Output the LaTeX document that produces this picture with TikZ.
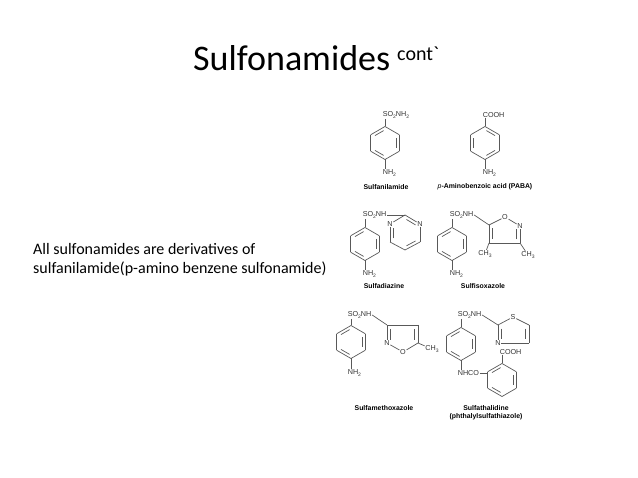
\documentclass[tikz,border=0pt]{standalone}
\usepackage{fontspec}
\setmainfont{Carlito}
\newfontfamily\plainfont{Carlito}
\newfontfamily\arialfont{Liberation Sans}
\usetikzlibrary{calc}

\definecolor{bondgray}{gray}{0.35}
\definecolor{inkgray}{gray}{0.2}

\tikzset{
	bond/.style={line width=.7pt, bondgray},
	atom/.style={inner sep=.6pt, text=inkgray, font=\arialfont\fontsize{7.2}{8}\selectfont},
	drugname/.style={inner sep=0pt, align=center, text=black, font=\arialfont\bfseries\fontsize{6.9}{8.2}\selectfont},
	bodyline/.style={inner sep=0pt, anchor=base west, text=black, font=\fontsize{16}{20}\selectfont},
}

% small index digit, sits tight against the letters
\newcommand{\lowdigit}[1]{\raisebox{-1.6pt}{\fontsize{5}{5}\selectfont #1}}

% six vertices name1..name6, clockwise from the top
\newcommand{\ringsix}[4]{
	\coordinate (#1c) at (#2,#3);
	\foreach \i in {1,...,6}
	{
		\coordinate (#1\i) at ($(#2,#3)+({#4*cos(-90+60*(\i-1))},{#4*sin(-90+60*(\i-1))})$);
	}
	\foreach \i/\j in {1/2,2/3,3/4,4/5,5/6,6/1}
	{
		\draw[bond] (#1\i) -- (#1\j);
	}
}
% second line of a double bond, pulled towards the ring centre
\newcommand{\innerbond}[3]{
	\draw[bond] ($($(#1)!.12!(#2)$)!.2!(#3)$) -- ($($(#2)!.12!(#1)$)!.2!(#3)$);
}

\begin{document}
\begin{tikzpicture}[x=1pt,y=-1pt]

	\useasboundingbox (0,0) rectangle (638,478);

	% title and text
	\node[inner sep=0pt, anchor=base west, font=\fontsize{36}{40}\selectfont] (title) at (193,71) {Sulfonamides};
	\node[inner sep=0pt, anchor=base west, font=\plainfont\fontsize{20}{24}\selectfont] (cont) at (397,60.5) {cont`};
	\node[bodyline] (lineone) at (33,255) {All sulfonamides are derivatives of};
	\node[bodyline] (linetwo) at (33,274) {sulfanilamide(p-amino benzene sulfonamide)};

	% sulfanilamide
	\ringsix{sa}{385}{143}{16.5}
	\foreach \a/\b in {sa1/sa6,sa2/sa3,sa4/sa5}
	{
		\innerbond{\a}{\b}{sac}
	}
	\node[atom, anchor=west] (sasul) at (382,115) {SO\lowdigit{2}NH\lowdigit{2}};
	\node[atom, anchor=west] (saamine) at (382,173) {NH\lowdigit{2}};
	\draw[bond] (sa1) -- (sa1 |- sasul.south);
	\draw[bond] (sa4) -- (sa4 |- saamine.north);
	\node[drugname] (saname) at (386,187) {Sulfanilamide};

	% PABA
	\ringsix{pa}{485}{143}{16.5}
	\foreach \a/\b in {pa1/pa2,pa3/pa4,pa5/pa6}
	{
		\innerbond{\a}{\b}{pac}
	}
	\node[atom, anchor=west] (pacooh) at (482,115) {COOH};
	\node[atom, anchor=west] (paamine) at (482,173) {NH\lowdigit{2}};
	\draw[bond] (pa1) -- (pa1 |- pacooh.south);
	\draw[bond] (pa4) -- (pa4 |- paamine.north);
	\node[drugname] (paname) at (485,187) {\textit{\mdseries p}-Aminobenzoic acid (PABA)};

	% sulfadiazine
	\ringsix{di}{365}{244}{16.5}
	\foreach \a/\b in {di1/di6,di2/di3,di4/di5}
	{
		\innerbond{\a}{\b}{dic}
	}
	\node[atom, anchor=west] (disul) at (362,215) {SO\lowdigit{2}NH};
	\node[atom, anchor=west] (diamine) at (362,274) {NH\lowdigit{2}};
	\draw[bond] (di1) -- (di1 |- disul.south);
	\draw[bond] (di4) -- (di4 |- diamine.north);
	\coordinate (pyc) at (405,233);
	\coordinate (pytop) at (405,215);
	\node[atom] (pyn) at (420,224) {N};
	\node[atom] (pym) at (390,224) {N};
	\coordinate (pya) at (420,242);
	\coordinate (pyb) at (405,250);
	\coordinate (pyd) at (390,242);
	\draw[bond] (disul.east) -- (pytop);
	\foreach \a/\b in {pytop/pyn,pyn/pya,pya/pyb,pyb/pyd,pyd/pym,pym/pytop}
	{
		\draw[bond] (\a) -- (\b);
	}
	\foreach \a/\b in {pytop/pyn,pya/pyb,pyd/pym}
	{
		\innerbond{\a}{\b}{pyc}
	}
	\node[drugname] (diname) at (384,286) {Sulfadiazine};

	% sulfisoxazole
	\ringsix{si}{452}{244}{16.5}
	\foreach \a/\b in {si1/si6,si2/si3,si4/si5}
	{
		\innerbond{\a}{\b}{sic}
	}
	\node[atom, anchor=west] (sisul) at (449,215) {SO\lowdigit{2}NH};
	\node[atom, anchor=west] (siamine) at (449,274) {NH\lowdigit{2}};
	\draw[bond] (si1) -- (si1 |- sisul.south);
	\draw[bond] (si4) -- (si4 |- siamine.north);
	\coordinate (isc) at (504,233);
	\coordinate (isa) at (489,225);
	\coordinate (isb) at (489,243);
	\coordinate (isd) at (520,243);
	\node[atom] (iso) at (505,217) {O};
	\node[atom] (isn) at (520,226) {N};
	\node[atom] (ismea) at (485,254) {CH\lowdigit{3}};
	\node[atom] (ismeb) at (528,255) {CH\lowdigit{3}};
	\draw[bond] (sisul.east) -- (isa);
	\foreach \a/\b in {isa/isb,isb/isd,isd/isn,isn/iso,iso/isa,isb/ismea,isd/ismeb}
	{
		\draw[bond] (\a) -- (\b);
	}
	\foreach \a/\b in {isa/isb,isd/isn}
	{
		\innerbond{\a}{\b}{isc}
	}
	\node[drugname] (siname) at (483,286) {Sulfisoxazole};

	% sulfamethoxazole
	\ringsix{me}{351}{342}{16.5}
	\foreach \a/\b in {me1/me6,me2/me3,me4/me5}
	{
		\innerbond{\a}{\b}{mec}
	}
	\node[atom, anchor=west] (mesul) at (347,315) {SO\lowdigit{2}NH};
	\node[atom, anchor=west] (meamine) at (347,373) {NH\lowdigit{2}};
	\draw[bond] (me1) -- (me1 |- mesul.south);
	\draw[bond] (me4) -- (me4 |- meamine.north);
	\coordinate (oxc) at (402,337);
	\coordinate (oxa) at (387,325);
	\coordinate (oxb) at (418,325);
	\coordinate (oxd) at (418,343);
	\node[atom] (oxo) at (403,352) {O};
	\node[atom] (oxn) at (387,343) {N};
	\node[atom] (oxme) at (432,349) {CH\lowdigit{3}};
	\draw[bond] (mesul.east) -- (oxa);
	\foreach \a/\b in {oxa/oxb,oxb/oxd,oxd/oxo,oxo/oxn,oxn/oxa,oxd/oxme}
	{
		\draw[bond] (\a) -- (\b);
	}
	\foreach \a/\b in {oxa/oxn,oxb/oxd}
	{
		\innerbond{\a}{\b}{oxc}
	}
	\node[drugname] (mename) at (384,408) {Sulfamethoxazole};

	% sulfathalidine
	\ringsix{th}{461}{344}{16.5}
	\foreach \a/\b in {th1/th6,th2/th3,th4/th5}
	{
		\innerbond{\a}{\b}{thc}
	}
	\node[atom, anchor=west] (thsul) at (457,315) {SO\lowdigit{2}NH};
	\node[atom, anchor=west] (thamide) at (457,373) {NHCO};
	\draw[bond] (th1) -- (th1 |- thsul.south);
	\draw[bond] (th4) -- (th4 |- thamide.north);
	\coordinate (tzc) at (513,334);
	\coordinate (tza) at (498,325);
	\coordinate (tzb) at (529,325);
	\coordinate (tzd) at (529,343);
	\node[atom] (tzs) at (513,317) {S};
	\node[atom] (tzn) at (498,343) {N};
	\draw[bond] (thsul.east) -- (tza);
	\foreach \a/\b in {tza/tzs,tzs/tzb,tzb/tzd,tzd/tzn,tzn/tza}
	{
		\draw[bond] (\a) -- (\b);
	}
	\foreach \a/\b in {tza/tzn,tzb/tzd}
	{
		\innerbond{\a}{\b}{tzc}
	}
	\ringsix{ph}{502}{380}{16.5}
	\foreach \a/\b in {ph1/ph6,ph2/ph3,ph4/ph5}
	{
		\innerbond{\a}{\b}{phc}
	}
	\node[atom, anchor=west] (phcooh) at (499,352) {COOH};
	\draw[bond] (ph1) -- (ph1 |- phcooh.south);
	\draw[bond] (thamide.east) -- (ph6 |- thamide.east) -- (ph6);
	\node[drugname] (thname) at (486,413) {Sulfathalidine\\(phthalylsulfathiazole)};

\end{tikzpicture}
\end{document}
